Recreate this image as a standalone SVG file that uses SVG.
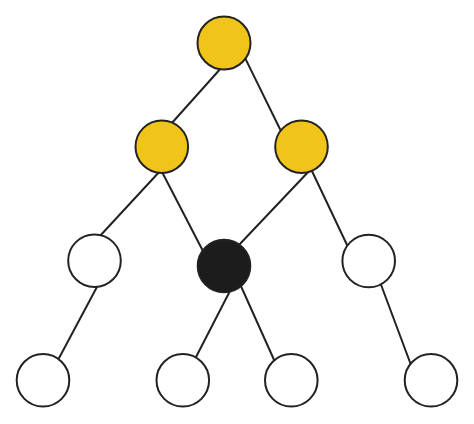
<svg xmlns="http://www.w3.org/2000/svg" width="474" height="424" viewBox="0 0 474 424">
<style>
.e{stroke:#222;stroke-width:2;fill:none;stroke-linecap:round}
.n{stroke:#222;stroke-width:2}
.y{fill:#F0C419}
.w{fill:#fff}
.b{fill:#1c1c1c}
</style>
<rect width="474" height="424" fill="#fff"/>
<g id="connectors">
<line class="e" x1="222" y1="67" x2="171" y2="124"/>
<line class="e" x1="244.4" y1="56.6" x2="282.3" y2="133.7"/>
<line class="e" x1="161" y1="170" x2="99" y2="237"/>
<line class="e" x1="161" y1="170" x2="204" y2="253"/>
<line class="e" x1="311" y1="169" x2="238" y2="246"/>
<line class="e" x1="311" y1="169" x2="348" y2="247"/>
<line class="e" x1="98" y1="285" x2="58" y2="360"/>
<line class="e" x1="231" y1="289" x2="195" y2="359"/>
<line class="e" x1="240" y1="284" x2="275" y2="362"/>
<line class="e" x1="380" y1="282" x2="411" y2="365"/>
</g>
<g id="n1"><circle class="n y" cx="224" cy="43" r="26.5"/></g>
<g id="n2"><circle class="n y" cx="161.8" cy="146.7" r="26.3"/></g>
<g id="n3"><circle class="n y" cx="301.5" cy="146.7" r="26.3"/></g>
<g id="n4"><circle class="n w" cx="94.5" cy="260.7" r="26.3"/></g>
<g id="n5"><circle class="n b" cx="224" cy="266" r="26.3"/></g>
<g id="n6"><circle class="n w" cx="368.7" cy="261" r="26.3"/></g>
<g id="n7"><circle class="n w" cx="43" cy="380.3" r="26.3"/></g>
<g id="n8"><circle class="n w" cx="182.8" cy="380.3" r="26.3"/></g>
<g id="n9"><circle class="n w" cx="291.3" cy="380.3" r="26.3"/></g>
<g id="n10"><circle class="n w" cx="431" cy="380.3" r="26.3"/></g>
</svg>
